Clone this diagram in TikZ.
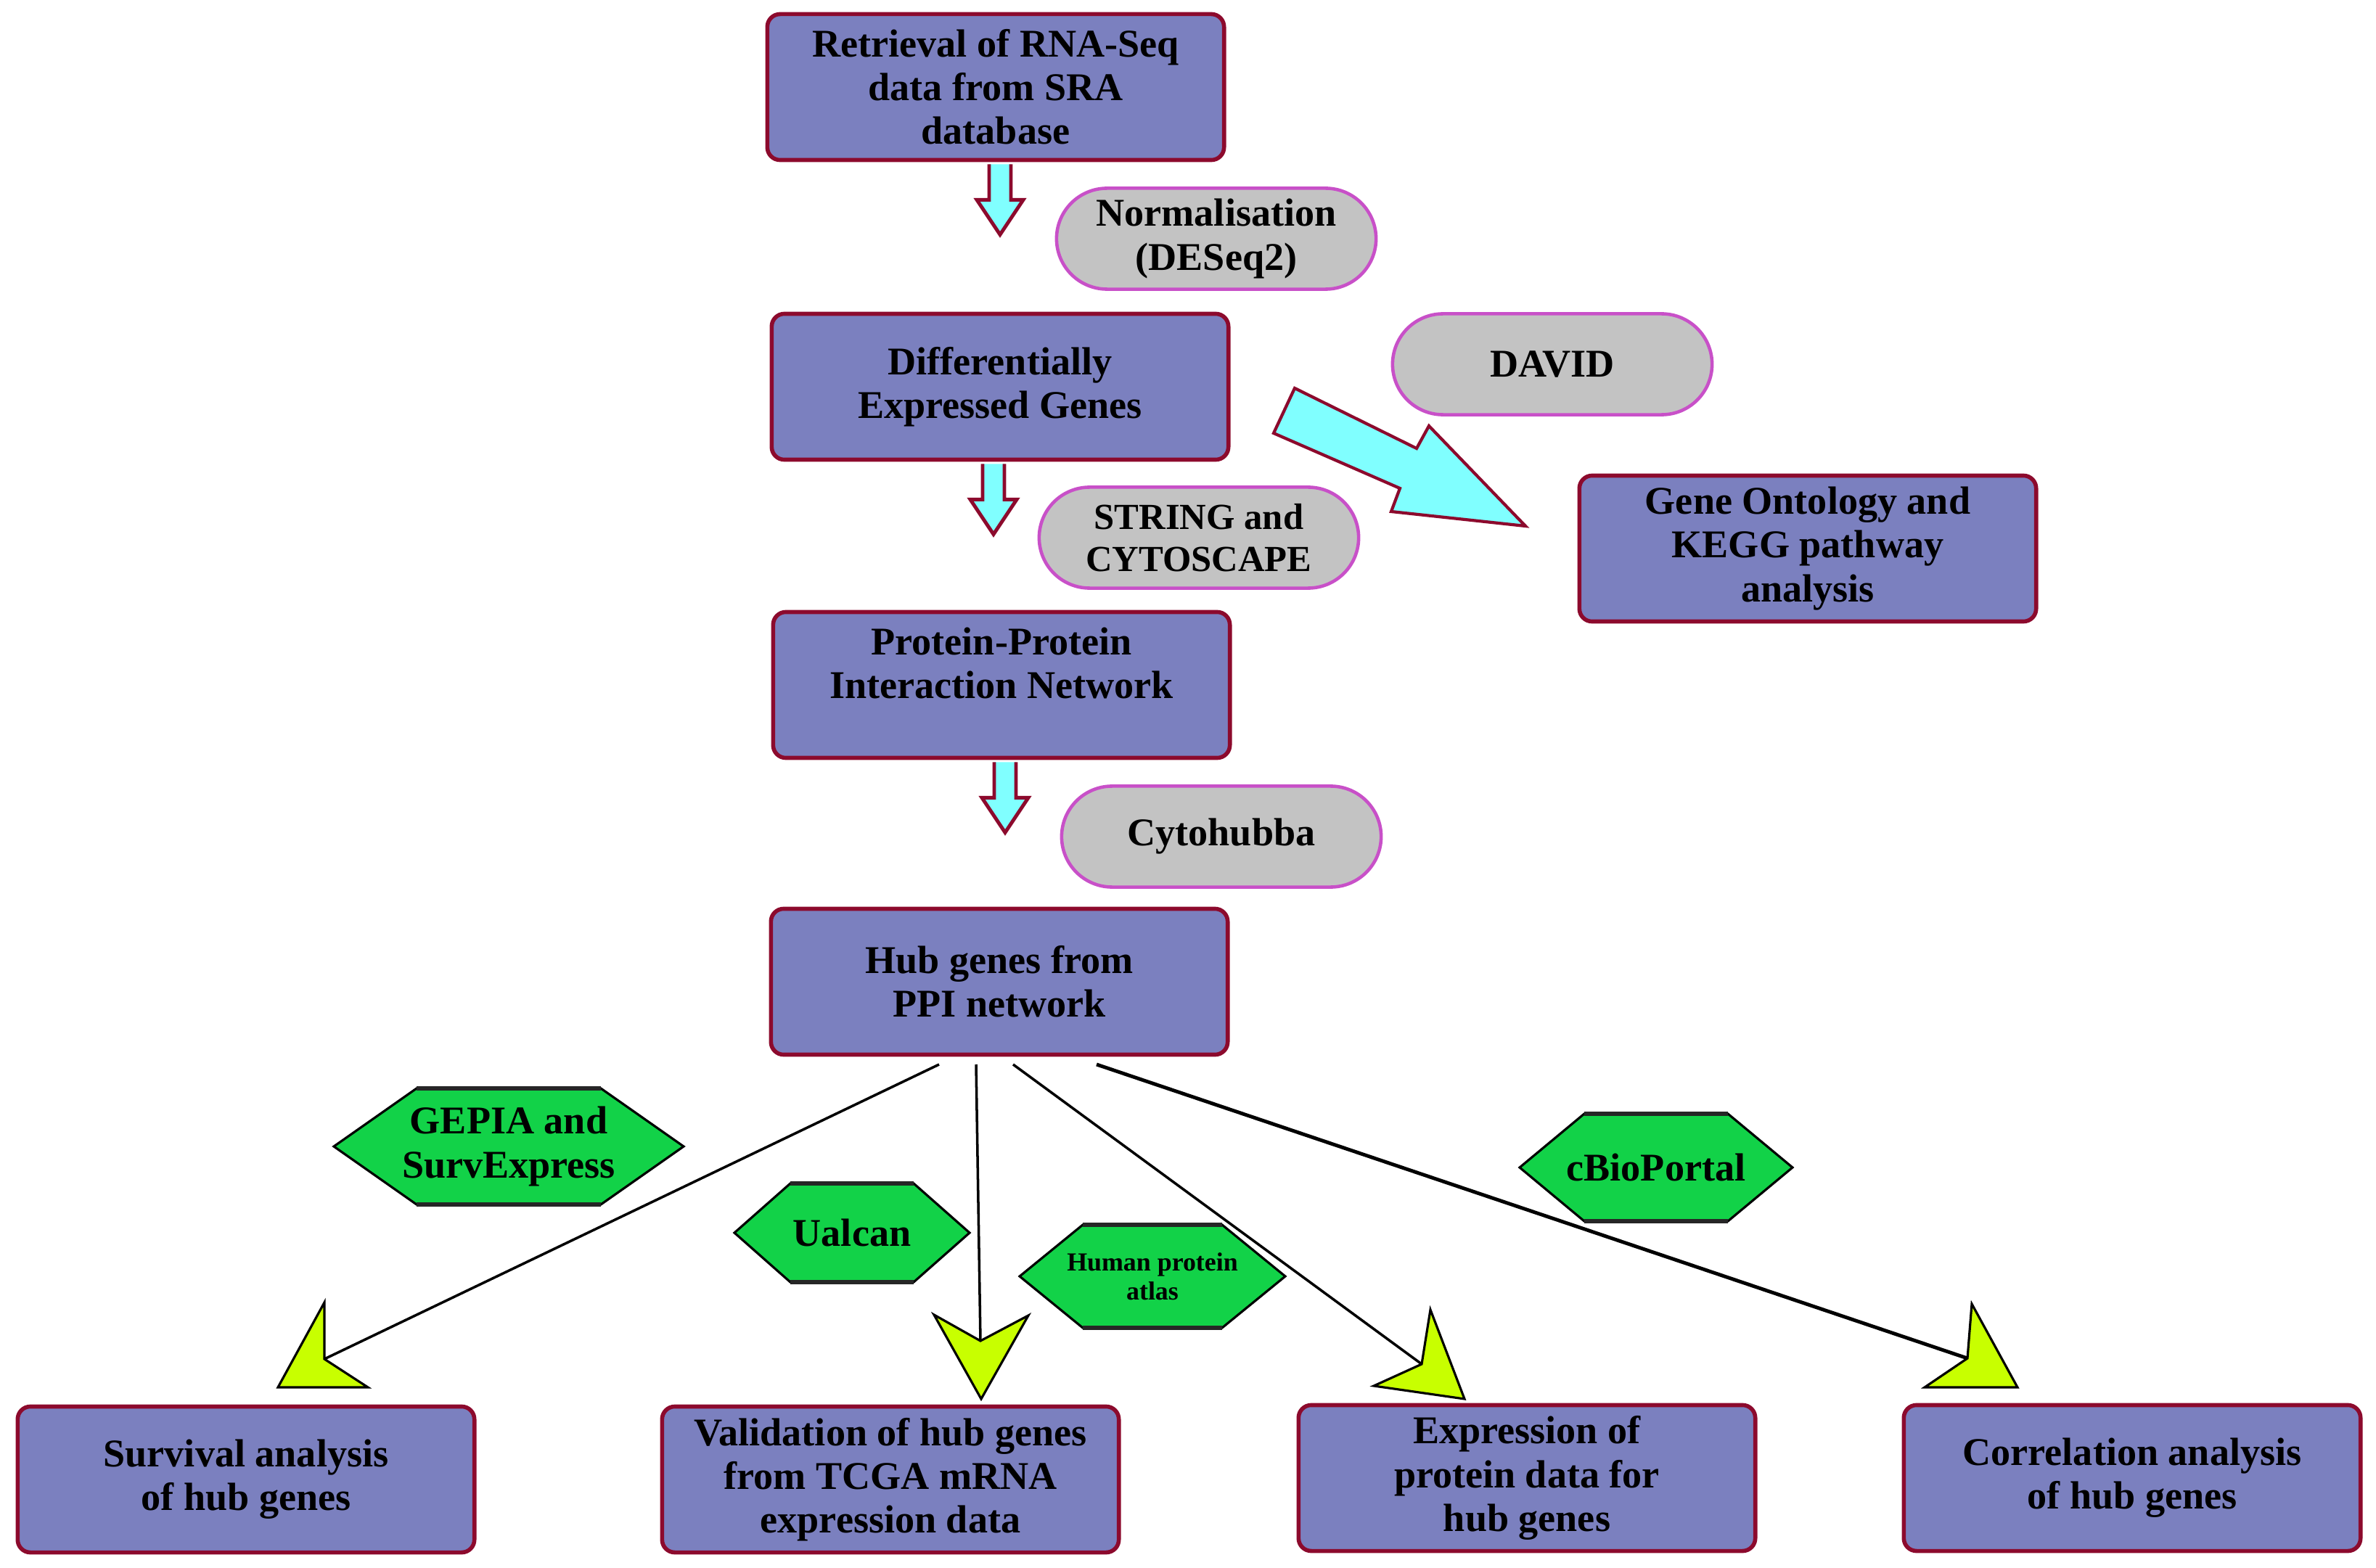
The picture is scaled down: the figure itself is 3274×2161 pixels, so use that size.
\documentclass[tikz,border=0pt]{standalone}
\usepackage{fontspec}
\setmainfont{Liberation Serif}
\usetikzlibrary{shapes.misc,calc}
\definecolor{boxfill}{RGB}{123,128,191}
\definecolor{boxline}{RGB}{140,10,45}
\definecolor{pillfill}{RGB}{195,195,195}
\definecolor{pillline}{RGB}{200,80,200}
\definecolor{arrcyan}{RGB}{128,255,255}
\definecolor{hexgreen}{RGB}{18,210,72}
\definecolor{tipyellow}{RGB}{200,255,0}
\newcommand{\myhex}[5]{% cx cy halfwidth halfheight inset
  \draw[hexshape] ({#1-#3},#2) -- ({#1-#3+#5},{#2-#4}) -- ({#1+#3-#5},{#2-#4})
    -- ({#1+#3},#2) -- ({#1+#3-#5},{#2+#4}) -- ({#1-#3+#5},{#2+#4}) -- cycle;
  \draw[hexedge] ({#1-#3+#5},{#2-#4}) -- ({#1+#3-#5},{#2-#4});
  \draw[hexedge] ({#1-#3+#5},{#2+#4}) -- ({#1+#3-#5},{#2+#4});}
\newcommand{\blockdown}[2]{% node, x offset
  \draw[blockarrow] ($(#1.south)+(#2-15,3)$) -- ++(0,49) -- ++(-17,0) -- ++(32,48)
    -- ++(32,-48) -- ++(-17,0) -- ++(0,-49);}
\begin{document}
\begin{tikzpicture}[x=0.01cm,y=-0.01cm,
  every node/.style={font=\fontsize{15.4}{17.1}\selectfont\bfseries, align=center, inner sep=0pt},
  stepbox/.style={draw=boxline, line width=1.6pt, fill=boxfill, rounded corners=5pt,
    minimum width=6.29cm, minimum height=2.01cm},
  pill/.style={rounded rectangle, draw=pillline, line width=1.3pt, fill=pillfill,
    minimum width=4.40cm, minimum height=1.39cm},
  hexshape/.style={draw=black, line width=0.9pt, fill=hexgreen, line join=miter},
  hexedge/.style={draw=black!85, line width=1.6pt},
  blockarrow/.style={draw=boxline, line width=1.4pt, fill=arrcyan, line join=miter},
  tipshape/.style={draw=black, line width=0.9pt, fill=tipyellow, line join=miter},
  link/.style={draw=black, line width=1pt}
]
\useasboundingbox (0,0) rectangle (3274,2161);

% main boxes
\node[stepbox] (b1) at (1372,120) {Retrieval of RNA-Seq\\data from SRA\\database};
\node[stepbox] (b2) at (1378,533) {Differentially\\Expressed Genes};
\node[stepbox] (go) at (2491,756) {Gene Ontology and\\KEGG pathway\\analysis};
\node[stepbox] (b3) at (1380,944) {Protein-Protein\\Interaction Network\\\mbox{}};
\node[stepbox] (hub) at (1377,1353) {Hub genes from\\PPI network};
\node[stepbox] (surv) at (339,2039) {Survival analysis\\of hub genes};
\node[stepbox] (valid) at (1227,2039) {Validation of hub genes\\from TCGA mRNA\\expression data};
\node[stepbox] (expr) at (2104,2037) {Expression of\\protein data for\\hub genes};
\node[stepbox] (corr) at (2938,2037) {Correlation analysis\\of hub genes};

% tool pills
\node[pill] (norm) at (1676,329) {Normalisation\\(DESeq2)};
\node[pill] (david) at (2139,502) {DAVID};
\node[pill, font=\fontsize{14.4}{16.4}\selectfont\bfseries] (string) at (1652,741) {STRING and\\CYTOSCAPE};
\node[pill] (cyto) at (1683,1153) {Cytohubba};

% block arrows down
\blockdown{b1}{6}
\blockdown{b2}{-9}
\blockdown{b3}{5}

% big arrow to GO
\draw[blockarrow, line width=1.2pt] (1784,535) -- (1952,618) -- (1969,587) -- (2102,725)
  -- (1917,705) -- (1929,673) -- (1755,597) -- cycle;

% lines from hub
\coordinate (s1) at (1294,1467);
\coordinate (s2) at (1345,1467);
\coordinate (s3) at (1396,1467);
\coordinate (s4) at (1511,1467);
\coordinate (n1) at (447,1873);
\coordinate (n2) at (1351,1848);
\coordinate (n3) at (1959,1880);
\coordinate (n4) at (2711,1872);
\draw[link] (s1) -- (n1);
\draw[link] (s2) -- (n2);
\draw[link] (s3) -- (n3);
\draw[link, line width=1.4pt] (s4) -- (n4);

% arrow tips
\draw[tipshape] (447,1795) -- (383,1912) -- (507,1912) -- (n1) -- cycle;
\draw[tipshape] (1287,1812) -- (n2) -- (1417,1813) -- (1352,1928) -- cycle;
\draw[tipshape] (1971,1805) -- (2018,1928) -- (1893,1910) -- (n3) -- cycle;
\draw[tipshape] (2717,1797) -- (2780,1912) -- (2652,1912) -- (n4) -- cycle;

% hexagons
\myhex{701}{1580}{241}{80}{114}
\node (gepia) at (701,1580) {GEPIA and\\SurvExpress};
\myhex{1174}{1699}{162}{68}{77}
\node (ualcan) at (1174,1699) {Ualcan};
\myhex{1588}{1759}{183}{71}{87}
\node[font=\fontsize{10.2}{11.4}\selectfont\bfseries] (hpa) at (1588,1759) {Human protein\\atlas};
\myhex{2282}{1609}{188}{74}{89}
\node (cbio) at (2282,1609) {cBioPortal};
\end{tikzpicture}
\end{document}
